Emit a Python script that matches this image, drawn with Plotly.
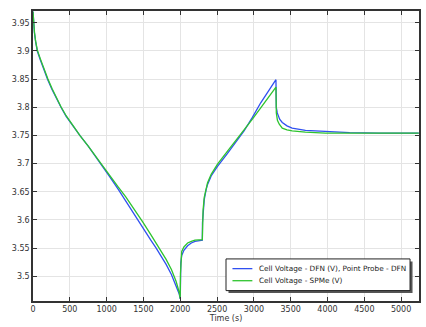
import plotly.graph_objects as go

# Cell voltage during discharge / rest / charge / rest (time in s, voltage in V)
time_dfn = [0, 3, 8, 20, 35, 58, 100, 150, 200, 260, 320, 380, 450, 545, 636, 750, 850, 906,
            1041, 1154, 1260, 1357, 1492, 1600, 1673, 1750, 1808, 1880, 1943, 1985, 2000,
            2003, 2008, 2020, 2050, 2100, 2150, 2200, 2300,
            2302, 2310, 2326, 2350, 2371, 2420, 2506, 2642, 2750, 2867, 2980, 3093, 3200, 3300,
            3305, 3318, 3350, 3386, 3450, 3520, 3700, 3972, 4300, 4693, 5240]
volt_dfn = [3.970, 3.960, 3.950, 3.932, 3.917, 3.900, 3.884, 3.866, 3.849, 3.831, 3.815, 3.800,
            3.784, 3.766, 3.750, 3.731, 3.713, 3.702,
            3.677, 3.655, 3.633, 3.612, 3.585, 3.564, 3.550, 3.534, 3.521, 3.503, 3.484, 3.469,
            3.460,
            3.500, 3.524, 3.537, 3.546, 3.554, 3.559, 3.562, 3.564,
            3.595, 3.614, 3.636, 3.653, 3.663, 3.678, 3.695, 3.718, 3.737, 3.758, 3.782, 3.808,
            3.829, 3.849,
            3.800, 3.790, 3.779, 3.773, 3.767, 3.763, 3.759, 3.757, 3.755, 3.754, 3.754]

time_spme = [0, 3, 8, 20, 35, 58, 100, 150, 200, 260, 320, 380, 450, 545, 636, 750, 850, 906,
             1041, 1100, 1154, 1260, 1357, 1492, 1600, 1673, 1750, 1808, 1880, 1943, 1985, 2000,
             2003, 2008, 2020, 2050, 2100, 2150, 2200, 2300,
             2302, 2310, 2326, 2350, 2371, 2420, 2506, 2642, 2750, 2867, 2980, 3093, 3200, 3300,
             3305, 3320, 3345, 3386, 3450, 3520, 3700, 3972, 4300, 5240]
volt_spme = [3.970, 3.959, 3.950, 3.933, 3.918, 3.902, 3.886, 3.868, 3.851, 3.833, 3.816,
             3.801, 3.785, 3.766, 3.750, 3.731, 3.713, 3.702,
             3.678, 3.668, 3.659, 3.641, 3.623, 3.596, 3.574, 3.559, 3.543, 3.530, 3.512, 3.491,
             3.472, 3.460,
             3.505, 3.530, 3.544, 3.552, 3.559, 3.562, 3.564, 3.565,
             3.598, 3.617, 3.640, 3.657, 3.666, 3.681, 3.699, 3.722, 3.740, 3.759, 3.779, 3.799,
             3.818, 3.836,
             3.790, 3.777, 3.770, 3.763, 3.760, 3.758, 3.756, 3.754, 3.754, 3.754]

series_names = ["Cell Voltage - DFN (V), Point Probe - DFN", "Cell Voltage - SPMe (V)"]
series_colors = ["#3050f0", "#2ec42e"]

x_ticks = [0, 500, 1000, 1500, 2000, 2500, 3000, 3500, 4000, 4500, 5000]
y_ticks = [3.5, 3.55, 3.6, 3.65, 3.7, 3.75, 3.8, 3.85, 3.9, 3.95]
y_tick_text = ["3.5", "3.55", "3.6", "3.65", "3.7", "3.75", "3.8", "3.85", "3.9", "3.95"]

fig = go.Figure()
for t, v, name, color in [(time_dfn, volt_dfn, series_names[0], series_colors[0]),
                          (time_spme, volt_spme, series_names[1], series_colors[1])]:
    fig.add_trace(go.Scatter(x=t, y=v, mode="lines", name=name,
                             line=dict(color=color, width=1.3)))

axis_common = dict(showline=True, mirror="ticks", linecolor="#333333", linewidth=1.5,
                   ticks="inside", ticklen=4, tickwidth=1, tickcolor="#333333",
                   showgrid=True, gridcolor="#e4e4e4", gridwidth=1, zeroline=False,
                   tickfont=dict(family="DejaVu Sans", size=8, color="#333333"))

fig.update_xaxes(range=[0, 5243], tickvals=x_ticks,
                 title=dict(text="Time (s)", standoff=2,
                            font=dict(family="DejaVu Sans", size=8, color="#333333")),
                 **axis_common)
fig.update_yaxes(range=[3.456, 3.971], tickvals=y_ticks, ticktext=y_tick_text,
                 **axis_common)

# Legend box with a drop shadow, drawn in pixel-based paper coordinates
PLOT_L, PLOT_B, PLOT_W, PLOT_H = 33, 304, 388, 293


def px(x):
    return (x - PLOT_L) / PLOT_W


def py(y):
    return (PLOT_B - y) / PLOT_H


box_l, box_r, box_t, box_b = 227, 412, 261.5, 293.5
fig.add_shape(type="rect", xref="paper", yref="paper",
              x0=px(box_l + 2.5), x1=px(box_r + 2.5), y0=py(box_b + 2.5), y1=py(box_t + 2.5),
              fillcolor="#555555", line=dict(width=0), layer="above")
fig.add_shape(type="rect", xref="paper", yref="paper",
              x0=px(box_l), x1=px(box_r), y0=py(box_b), y1=py(box_t),
              fillcolor="white", line=dict(color="#222222", width=1), layer="above")
for row_y, name, color in zip([271.3, 283.5], series_names, series_colors):
    fig.add_shape(type="line", xref="paper", yref="paper",
                  x0=px(233.5), x1=px(253.5), y0=py(row_y), y1=py(row_y),
                  line=dict(color=color, width=1.3), layer="above")
    fig.add_annotation(xref="paper", yref="paper", x=px(258), y=py(row_y),
                       xanchor="left", yanchor="middle", text=name, showarrow=False,
                       font=dict(family="DejaVu Sans", size=7.3, color="#222222"))

fig.update_layout(
    width=426, height=327,
    margin=dict(l=33, r=5, t=11, b=23),
    paper_bgcolor="white", plot_bgcolor="white",
    showlegend=False,
)

fig.write_html("out.html")
